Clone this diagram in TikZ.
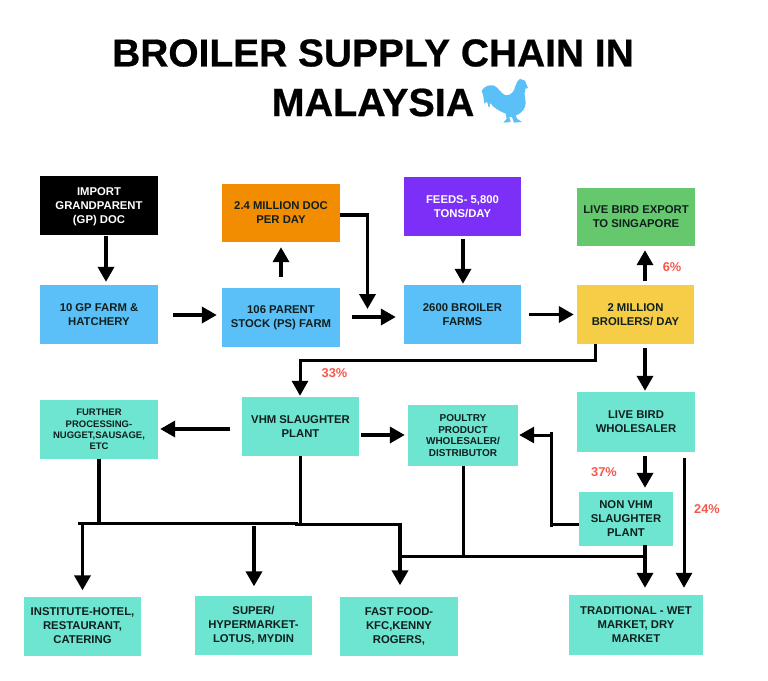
\documentclass[tikz,border=0pt]{standalone}
\usepackage{fontspec}
\setmainfont{Liberation Sans}
\newfontfamily\ttlf{Liberation Sans}[BoldFeatures={FakeBold=0.6}]
\usetikzlibrary{arrows.meta,calc}
\definecolor{teal}{HTML}{6EE5D0}
\definecolor{sky}{HTML}{5BC0F8}
\definecolor{orng}{HTML}{F28C00}
\definecolor{purp}{HTML}{7B2FF7}
\definecolor{grn}{HTML}{66C86C}
\definecolor{yel}{HTML}{F5CD47}
\definecolor{redl}{HTML}{F5574E}
\definecolor{ink}{HTML}{10201F}
\tikzset{
 box/.style={draw=none,inner sep=0pt,align=center,text=ink,font=\fontsize{11.3}{14}\selectfont\bfseries},
 sz/.style n args={2}{minimum width=#1pt,minimum height=#2pt},
 small/.style={font=\fontsize{10}{11.6}\selectfont\bfseries},
 tiny/.style={font=\fontsize{9.5}{11.3}\selectfont\bfseries},
 tip/.style={-{Triangle[length=15pt,width=16pt]}},
 line/.style={line width=3pt,draw=black},
 arr/.style={line width=3.6pt,draw=black,tip},
 thinarr/.style={line width=3pt,draw=black,tip},
 pct/.style={text=redl,font=\fontsize{12.8}{14}\selectfont\bfseries,inner sep=0pt},
 ttl/.style={inner sep=0pt,text=black},
}
\begin{document}
\begin{tikzpicture}[x=1pt,y=-1pt]
\useasboundingbox (0,0) rectangle (768,680);
\node[ttl,font=\fontsize{38.9}{46}\ttlf\bfseries] (t1) at (373,53) {BROILER SUPPLY CHAIN IN};
\node[ttl,font=\fontsize{39.5}{46}\ttlf\bfseries] (t2) at (373,102.5) {MALAYSIA};
\begin{scope}[shift={(475,75)},x=0.3333pt,y=-0.3333pt]
\fill[sky] (128,18) -- (135,12) .. controls (144,11) and (152,16) .. (155,30) -- (159,39) -- (151,41) -- (150,48) .. controls (147,56) and (151,70) .. (152,85) .. controls (152,100) and (140,115) .. (122,122) -- (127,132) -- (141,141) -- (117,143) -- (111,126) -- (103,126) -- (107,141) -- (85,143) -- (95,131) -- (92,116) .. controls (72,108) and (55,98) .. (46,84) -- (42,100) -- (36,80) -- (28,86) -- (25,64) -- (20,47) .. controls (28,33) and (45,28) .. (58,32) .. controls (70,38) and (78,56) .. (92,61) .. controls (106,62) and (118,50) .. (120,36) -- cycle;
\end{scope}

\node[box,sz={118}{59},fill=black,text=white] (imp) at (99,205) {\rule{0pt}{12pt}IMPORT\\GRANDPARENT\\(GP) DOC};
\node[box,sz={118}{59},fill=sky] (gp) at (99,314.5) {10 GP FARM \&\\HATCHERY};
\node[box,sz={118}{58},fill=orng] (doc) at (281,213) {2.4 MILLION DOC\\PER DAY};
\node[box,sz={118}{59},fill=sky] (ps) at (281,317.5) {106 PARENT\\STOCK (PS) FARM};
\node[box,sz={117}{59},fill=purp,text=white] (feed) at (462.5,206.5) {FEEDS- 5,800\\TONS/DAY};
\node[box,sz={117}{59},fill=sky] (brf) at (462.5,314.5) {2600 BROILER\\FARMS};
\node[box,sz={118}{58},fill=grn] (exp) at (636,217) {LIVE BIRD EXPORT\\TO SINGAPORE};
\node[box,sz={117}{59},fill=yel] (mil) at (635.5,314.5) {2 MILLION\\BROILERS/ DAY};
\node[box,sz={118}{59},fill=teal,tiny] (fur) at (99,429.5) {FURTHER\\PROCESSING-\\NUGGET,SAUSAGE,\\ETC};
\node[box,sz={117}{59},fill=teal] (vhm) at (300.5,426.5) {VHM SLAUGHTER\\PLANT};
\node[box,sz={110}{61},fill=teal,small] (pou) at (463,435.5) {POULTRY\\PRODUCT\\WHOLESALER/\\DISTRIBUTOR};
\node[box,sz={118}{60},fill=teal] (lbw) at (636,422) {LIVE BIRD\\WHOLESALER};
\node[box,sz={94}{54},fill=teal] (non) at (626,519) {NON VHM\\SLAUGHTER\\PLANT};
\node[box,sz={117}{59},fill=teal] (ins) at (82.5,626) {INSTITUTE-HOTEL,\\RESTAURANT,\\CATERING};
\node[box,sz={117}{59},fill=teal] (sup) at (253.5,625) {SUPER/\\HYPERMARKET-\\LOTUS, MYDIN};
\node[box,sz={118}{59},fill=teal] (ff) at (399,626) {FAST FOOD-\\KFC,KENNY\\ROGERS,};
\node[box,sz={134}{60},fill=teal] (trd) at (636,625) {TRADITIONAL - WET\\MARKET, DRY\\MARKET};

\node[pct] (p6) at (672,267) {6\%};
\node[pct] (p33) at (334.5,373) {33\%};
\node[pct] (p37) at (604,472) {37\%};
\node[pct] (p24) at (707,509.5) {24\%};

\coordinate (busa) at (78,523);
\coordinate (busb) at (298,523);
\coordinate (busc) at (295,524.5);
\coordinate (busd) at (401,524.5);
\coordinate (bo1) at (400,556);
\coordinate (bo2) at (645,556);
\coordinate (dj) at (367.5,215);
\coordinate (mj1) at (595,360);
\coordinate (mj2) at (300,360);
\coordinate (nj1) at (551,524);
\coordinate (nja) at (551,527);
\coordinate (njb) at (551,432);
\coordinate (nj2) at (551,435);

\draw[arr] ($(imp.south)+(7,1)$) -- ($(gp.north)+(7,-3)$);
\draw[arr] ($(gp.east)+(15,0.5)$) -- ($(ps.west)+(-5,-2.5)$);
\draw[arr] ($(ps.north)+(0,-11)$) -- ($(doc.south)+(0,5)$);
\draw[line,line width=3.6pt] (doc.east |- dj) -- ($(dj)+(1.8,0)$);
\draw[arr] (dj) -- ($(dj)+(0,94)$);
\draw[arr] ($(ps.east)+(12,-0.5)$) -- ($(brf.west)+(-8,2.5)$);
\draw[arr] ($(feed.south)+(0.5,3)$) -- ($(brf.north)+(0.5,-1)$);
\draw[arr] ($(brf.east)+(8,0)$) -- ($(mil.west)+(-3,0)$);
\draw[arr] ($(mil.north)+(9.5,-4)$) -- ($(exp.south)+(9,4)$);
\draw[thinarr] ($(mil.south)+(-40.5,0)$) -- (mj1) -- (mj2) -- ($(vhm.north)+(-0.5,-1)$);
\draw[arr] ($(mil.south)+(9.5,4)$) -- ($(lbw.north)+(9,-1)$);
\draw[arr] ($(lbw.south)+(9,4)$) -- ($(non.north)+(19,-4)$);
\draw[thinarr] ($(lbw.south)+(48,6)$) -- ($(trd.north)+(48,-7)$);
\draw[arr] ($(vhm.west)+(-12,2.5)$) -- ($(fur.east)+(2,-0.5)$);
\draw[arr] ($(vhm.east)+(2,8.5)$) -- ($(pou.west)+(-3,-0.5)$);
\draw[line] (non.west |- nj1) -- (nj1);
\draw[line] (nja) -- (njb);
\draw[thinarr] (nj2) -- ($(pou.east |- nj2)+(1,0)$);
\draw[line,line width=3.6pt] (fur.south) -- (fur.south |- busa);
\draw[line] (busa) -- (busb);
\draw[arr] (ins.north |- busa) -- ($(ins.north)+(0,-6)$);
\draw[arr] ($(sup.north)+(0.5,-69)$) -- ($(sup.north)+(0.5,-9)$);
\draw[line] (vhm.south) -- (vhm.south |- busc);
\draw[line] (busc) -- (busd);
\draw[arr] ($(ff.north)+(1,-73)$) -- ($(ff.north)+(1,-11)$);
\draw[line] (pou.south) -- (pou.south |- bo1);
\draw[line] (bo1) -- (bo2);
\draw[arr] ($(non.south)+(19,-1)$) -- ($(trd.north)+(9,-7)$);
\end{tikzpicture}
\end{document}
